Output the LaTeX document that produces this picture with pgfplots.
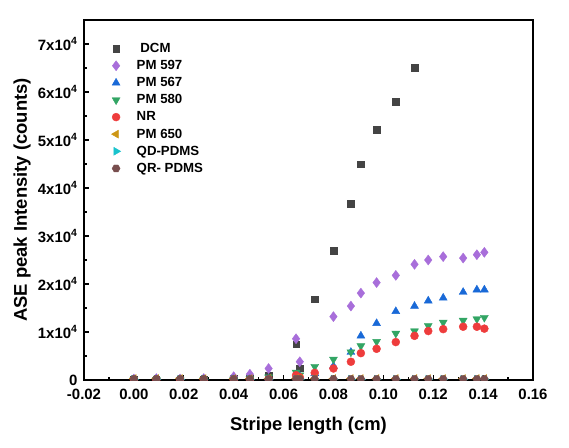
\documentclass[border=0pt]{standalone}
\usepackage{fontspec}
\setmainfont{Liberation Sans}
\usepackage{pgfplots}
\pgfplotsset{compat=1.18}
\definecolor{cDCM}{RGB}{68,68,68}
\definecolor{cA}{RGB}{168,110,218}
\definecolor{cB}{RGB}{25,105,215}
\definecolor{cC}{RGB}{50,165,100}
\definecolor{cNR}{RGB}{238,60,60}
\definecolor{cE}{RGB}{205,150,20}
\definecolor{cQD}{RGB}{25,195,205}
\definecolor{cQR}{RGB}{120,78,78}
\pgfdeclareplotmark{hexagon*}{%
  \pgfpathmoveto{\pgfpointpolar{0}{\pgfplotmarksize}}%
  \pgfpathlineto{\pgfpointpolar{60}{\pgfplotmarksize}}%
  \pgfpathlineto{\pgfpointpolar{120}{\pgfplotmarksize}}%
  \pgfpathlineto{\pgfpointpolar{180}{\pgfplotmarksize}}%
  \pgfpathlineto{\pgfpointpolar{240}{\pgfplotmarksize}}%
  \pgfpathlineto{\pgfpointpolar{300}{\pgfplotmarksize}}%
  \pgfpathclose\pgfusepathqfillstroke}
\pgfplotstableread{
x y
0.000 200
0.009 150
0.0185 200
0.028 200
0.040 300
0.0465 400
0.054 900
0.065 7450
0.0665 2500
0.0725 16800
0.080 26900
0.087 36700
0.091 45000
0.0973 52200
0.105 58000
0.1125 65100
}\tDCM
\pgfplotstableread{
x y
0.000 200
0.009 300
0.0185 200
0.028 300
0.040 700
0.0465 1200
0.054 2400
0.065 8600
0.0665 3800
0.080 13200
0.087 15400
0.091 18100
0.0973 20300
0.105 21800
0.1125 24100
0.118 25000
0.124 25700
0.132 25400
0.1375 26100
0.1405 26600
}\tA
\pgfplotstableread{
x y
0.000 100
0.009 100
0.0185 100
0.028 100
0.040 100
0.0465 150
0.054 200
0.065 500
0.0665 800
0.0725 1400
0.080 2900
0.087 5800
0.091 9200
0.0973 11800
0.105 14300
0.1125 15400
0.118 16500
0.124 17100
0.132 18300
0.1375 18800
0.1405 18800
}\tB
\pgfplotstableread{
x y
0.000 100
0.009 100
0.0185 100
0.028 100
0.040 100
0.0465 200
0.054 600
0.065 1600
0.0665 1000
0.0725 2800
0.080 4300
0.087 5800
0.091 7100
0.0973 8000
0.105 9700
0.1125 10200
0.118 11300
0.124 12000
0.132 12400
0.1375 12700
0.1405 13000
}\tC
\pgfplotstableread{
x y
0.000 100
0.009 100
0.0185 100
0.028 100
0.040 100
0.0465 100
0.054 200
0.065 1000
0.0665 600
0.0725 1500
0.080 2400
0.087 3800
0.091 5600
0.0973 6500
0.105 7900
0.1125 9200
0.118 10200
0.124 10600
0.132 11100
0.1375 11100
0.1405 10700
}\tNR
\pgfplotstableread{
x y
0.000 300
0.009 300
0.0185 300
0.028 300
0.040 300
0.0465 300
0.054 300
0.065 300
0.0665 300
0.0725 300
0.080 300
0.087 300
0.091 300
0.0973 300
0.105 300
0.1125 300
0.118 300
0.124 300
0.132 300
0.1375 300
0.1405 300
}\tE
\pgfplotstableread{
x y
0.000 150
0.009 150
0.0185 150
0.028 150
0.040 150
0.0465 150
0.054 150
0.065 150
0.0665 150
0.0725 150
0.080 150
0.087 150
0.091 150
0.0973 150
0.105 150
0.1125 150
0.118 150
0.124 150
0.132 150
0.1375 150
0.1405 150
}\tQD
\pgfplotstableread{
x y
0.000 200
0.009 200
0.0185 200
0.028 200
0.040 200
0.0465 200
0.054 200
0.065 200
0.0665 200
0.0725 200
0.080 200
0.087 200
0.091 200
0.0973 200
0.105 200
0.1125 200
0.118 200
0.124 200
0.132 200
0.1375 200
0.1405 200
}\tQR
\begin{document}
\begin{tikzpicture}
\begin{axis}[
  scale only axis, width=449bp, height=360bp,
  xmin=-0.02, xmax=0.16, ymin=0, ymax=75000,
  xtick={-0.02,0,0.02,0.04,0.06,0.08,0.10,0.12,0.14,0.16},
  xticklabels={-0.02,0.00,0.02,0.04,0.06,0.08,0.10,0.12,0.14,0.16},
  ytick={0,10000,20000,30000,40000,50000,60000,70000},
  yticklabels={0,1x10\textsuperscript{4},2x10\textsuperscript{4},3x10\textsuperscript{4},4x10\textsuperscript{4},5x10\textsuperscript{4},6x10\textsuperscript{4},7x10\textsuperscript{4}},
  scaled ticks=false,
  minor x tick num=1, minor y tick num=1,
  tick align=inside, tick pos=left,
  major tick length=5bp, minor tick length=3bp,
  axis line style={line width=1.6bp},
  every tick/.style={black, line width=1.2bp},
  tick label style={font=\fontsize{15}{18}\selectfont\bfseries},
  xticklabel style={yshift=-6bp},
  yticklabel style={xshift=-3bp},
  label style={font=\fontsize{18.5}{22}\selectfont\bfseries},
  xlabel={Stripe length (cm)}, ylabel={ASE peak Intensity (counts)},
  xlabel style={at={(axis description cs:0.5,-0.128)}, anchor=center},
  ylabel style={at={(axis description cs:-0.138,0.5)}, anchor=center},
  legend style={draw=none, fill=none, at={(rel axis cs:0.045,0.947)}, anchor=north west,
    font=\fontsize{13.3}{15}\selectfont\bfseries, row sep=2.4bp},
  legend image code/.code={%
    \path (0cm,0cm) (0.95cm,0cm);
    \draw[#1] plot coordinates {(0.3cm,0cm)};},
  legend cell align=left,
  clip marker paths=true,
]
\addplot[only marks, mark=square*, mark size=3.3bp, color=cDCM] table {\tDCM};
\addlegendentry{\ DCM}
\addplot[only marks, mark=diamond*, mark size=5bp, color=cA] table {\tA};
\addlegendentry{PM 597}
\addplot[only marks, mark=triangle*, mark size=4.6bp, color=cB] table {\tB};
\addlegendentry{PM 567}
\addplot[only marks, mark=triangle*, mark size=4.6bp, color=cC, mark options={rotate=180}] table {\tC};
\addlegendentry{PM 580}
\addplot[only marks, mark=*, mark size=4bp, color=cNR] table {\tNR};
\addlegendentry{NR}
\addplot[only marks, mark=triangle*, mark size=4.6bp, color=cE, mark options={rotate=90}] table {\tE};
\addlegendentry{PM 650}
\addplot[only marks, mark=triangle*, mark size=4.6bp, color=cQD, mark options={rotate=-90}] table {\tQD};
\addlegendentry{QD-PDMS}
\addplot[only marks, mark=hexagon*, mark size=4bp, color=cQR] table {\tQR};
\addlegendentry{QR- PDMS}
\end{axis}
\path (current axis.south west) ++(-84bp,-68bp) rectangle ++(569bp,448bp);
\end{tikzpicture}
\end{document}
